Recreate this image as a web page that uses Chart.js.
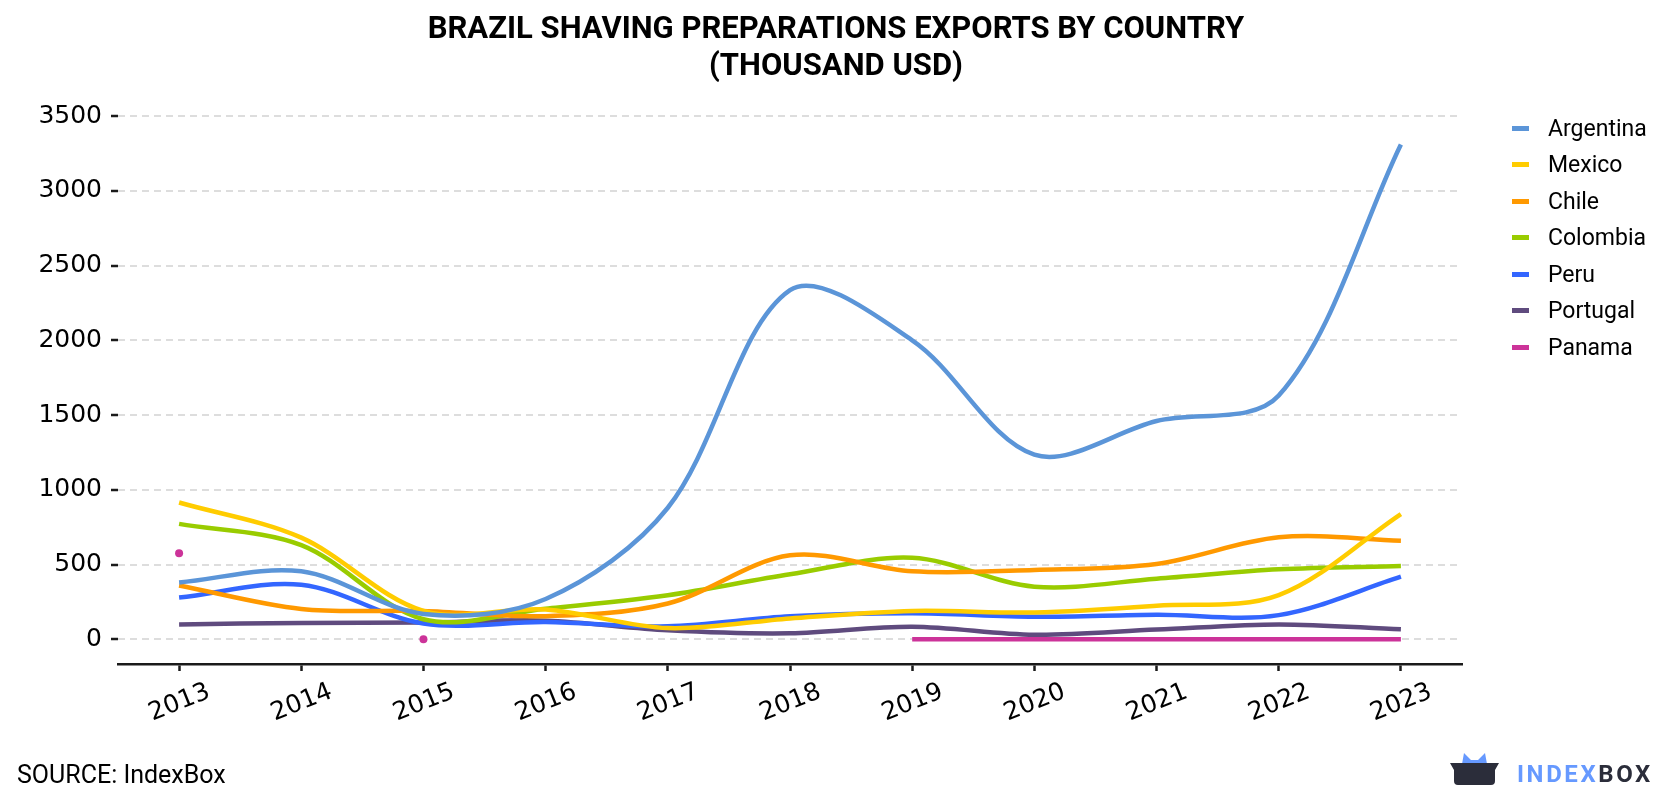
<!DOCTYPE html>
<html lang="en">
<head>
  <meta charset="UTF-8" />
  <title>Brazil Shaving Preparations Exports by Country</title>
  <script src="https://cdn.jsdelivr.net/npm/chart.js"></script>
  <style>
    body {
      margin: 0;
      background: #fff;
      font-family: 'Roboto', sans-serif;
    }

    .page {
      position: relative;
      width: 1680px;
      height: 800px;
      overflow: hidden;
    }

    canvas {
      position: absolute;
      left: 0;
      top: 0;
    }

    .title {
      position: absolute;
      top: 9px;
      left: 0;
      width: 1672px;
      text-align: center;
      font-weight: 700;
      font-size: 31px;
      line-height: 37px;
      color: #000;
    }

    .legend {
      position: absolute;
      left: 1512px;
      top: 110px;
    }

    .legend-item {
      display: flex;
      align-items: center;
      height: 36.5px;
      font-size: 23px;
      color: #000;
    }

    .legend-color {
      width: 17px;
      height: 5px;
      margin-right: 19px;
      display: inline-block;
    }

    .source {
      position: absolute;
      left: 17px;
      top: 762px;
      font-size: 25px;
      line-height: 25px;
      color: #000;
    }

    .logo {
      position: absolute;
      left: 1450px;
      top: 753px;
      display: flex;
    }

    .logo-text {
      position: absolute;
      left: 67px;
      top: 9px;
      font-size: 24px;
      line-height: 24px;
      font-weight: 700;
      letter-spacing: 2.6px;
      color: #2b2d3a;
    }

    .logo-text span {
      color: #6699ff;
    }
  </style>
</head>
<body>
  <div class="page">
    <canvas id="exportsChart" width="1680" height="800"></canvas>

    <div class="title">BRAZIL SHAVING PREPARATIONS EXPORTS BY COUNTRY<br>(THOUSAND USD)</div>

    <div class="legend" id="exportsLegend"></div>

    <div class="source">SOURCE: IndexBox</div>

    <div class="logo">
      <svg width="50" height="33" viewBox="0 0 50 33">
        <path d="M12 11 L14 0 L21 7 L28 7 L35 0 L37 11 Z" fill="#6699ff" />
        <path d="M0 10 H49 L45 17 V28 Q45 32 41 32 H8 Q4 32 4 28 V17 Z" fill="#2b2d3a" />
        <path d="M13 10 L15 3 L21 9 L28 9 L34 3 L36 10 Z" fill="#6699ff" />
      </svg>
      <div class="logo-text"><span>INDEX</span>BOX</div>
    </div>
  </div>

  <script>
    // datos
    const years = ['2013', '2014', '2015', '2016', '2017', '2018', '2019', '2020', '2021', '2022', '2023'];
    const yTicks = [0, 500, 1000, 1500, 2000, 2500, 3000, 3500];

    const argentina = [380, 455, 170, 270, 880, 2335, 2000, 1235, 1460, 1630, 3310];
    const mexico = [915, 680, 190, 200, 75, 140, 190, 180, 225, 296, 838];
    const chile = [360, 203, 190, 155, 240, 562, 455, 464, 504, 682, 660];
    const colombia = [772, 630, 134, 205, 295, 435, 545, 352, 405, 468, 490];
    const peru = [279, 365, 105, 116, 87, 154, 174, 151, 165, 162, 419];
    const portugal = [100, 110, 112, 125, 60, 40, 84, 30, 65, 100, 67];
    const panama = [575, null, 0, null, null, null, 0, 0, 0, 0, 0];

    const seriesNames = ['Argentina', 'Mexico', 'Chile', 'Colombia', 'Peru', 'Portugal', 'Panama'];
    const seriesValues = [argentina, mexico, chile, colombia, peru, portugal, panama];
    const seriesColors = ['#5b95d8', '#ffcc00', '#ff9900', '#99cc00', '#3366ff', '#5f4b7e', '#cc3399'];

    // puntos sueltos (sin vecinos) se dibujan como punto
    function isolatedRadius(context) {
      const data = context.dataset.data;
      const i = context.dataIndex;
      if (data[i] === null) return 0;
      const prev = i > 0 ? data[i - 1] : null;
      const next = i < data.length - 1 ? data[i + 1] : null;
      return (prev === null && next === null) ? 4 : 0;
    }

    const datasets = seriesNames.map((name, i) => ({
      label: name,
      data: seriesValues[i],
      borderColor: seriesColors[i],
      backgroundColor: seriesColors[i],
      borderWidth: 4.5,
      tension: 0.33,
      fill: false,
      spanGaps: false,
      pointRadius: isolatedRadius,
      pointHoverRadius: 0,
      pointBorderWidth: 0
    }));

    const ctx = document.getElementById('exportsChart').getContext('2d');

    new Chart(ctx, {
      type: 'line',
      data: { labels: years, datasets: datasets },
      options: {
        responsive: false,
        animation: false,
        layout: {
          padding: { left: 0, top: 116, right: 218, bottom: 0 }
        },
        scales: {
          x: {
            type: 'category',
            offset: true,
            afterFit: function (scale) { scale.height = 136; },
            border: { display: true, color: '#1a1a1a', width: 2.5 },
            grid: {
              drawOnChartArea: false,
              drawTicks: true,
              tickLength: 7,
              tickColor: '#1a1a1a',
              tickWidth: 2.5
            },
            ticks: {
              autoSkip: false,
              minRotation: 22,
              maxRotation: 22,
              labelOffset: 30,
              padding: 6,
              color: '#000',
              font: { family: "'DejaVu Sans'", size: 25 }
            }
          },
          y: {
            min: -165,
            max: 3500,
            afterFit: function (scale) { scale.width = 118; },
            afterBuildTicks: function (scale) {
              scale.ticks = yTicks.map(v => ({ value: v }));
            },
            border: { display: false, dash: [7, 5] },
            grid: {
              color: '#dddddd',
              lineWidth: 2,
              drawTicks: true,
              tickLength: 7,
              tickColor: '#1a1a1a',
              tickWidth: 2.5,
              tickBorderDash: []
            },
            ticks: {
              padding: 9,
              color: '#000',
              font: { family: "'DejaVu Sans'", size: 25 },
              callback: function (value) { return String(value); }
            }
          }
        },
        plugins: {
          legend: { display: false },
          title: { display: false },
          tooltip: { enabled: false }
        }
      }
    });

    // leyenda
    const legend = document.getElementById('exportsLegend');
    seriesNames.forEach((name, i) => {
      const item = document.createElement('div');
      item.className = 'legend-item';

      const colorBox = document.createElement('span');
      colorBox.className = 'legend-color';
      colorBox.style.backgroundColor = seriesColors[i];

      item.appendChild(colorBox);
      item.appendChild(document.createTextNode(name));
      legend.appendChild(item);
    });
  </script>
</body>
</html>
